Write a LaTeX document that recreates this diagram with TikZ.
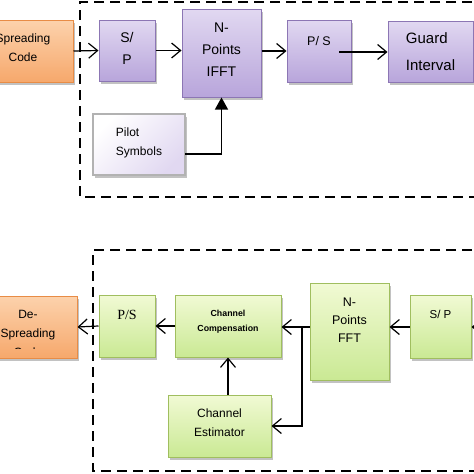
\documentclass[tikz,border=0pt]{standalone}
\usepackage{fontspec}
\setmainfont{Liberation Sans}
\newfontfamily\timesfont{Liberation Serif}
\usetikzlibrary{arrows.meta,shadows}

\definecolor{lilac}{RGB}{225,216,241}
\definecolor{lilacdark}{RGB}{184,165,219}
\definecolor{lilacline}{RGB}{140,118,180}
\definecolor{lime}{RGB}{241,250,212}
\definecolor{limedark}{RGB}{202,233,148}
\definecolor{limeline}{RGB}{160,190,95}
\definecolor{peach}{RGB}{252,210,172}
\definecolor{peachdark}{RGB}{246,168,108}
\definecolor{peachline}{RGB}{232,140,70}

\tikzset{
  blk/.style={draw, line width=1pt, rectangle, align=center, inner sep=0pt,
    drop shadow={shadow xshift=2pt, shadow yshift=-2.5pt, fill=black!40, opacity=.6}},
  txblk/.style={blk, draw=lilacline, top color=lilac, bottom color=lilacdark},
  rxblk/.style={blk, draw=limeline, top color=lime, bottom color=limedark},
  codeblk/.style={blk, draw=peachline, top color=peach, bottom color=peachdark},
  flow/.style={line width=1.2pt, -{Straight Barb[length=9pt,width=15pt,line width=1.2pt]}},
  frame/.style={line width=2.8pt, dash pattern=on 10pt off 6pt},
}

\begin{document}
\begin{tikzpicture}[x=1pt, y=-1pt]
\clip (0,0) rectangle (474,474);
%transmitter frame
\draw[frame] (520,2) -- (80,2) -- (80,197) -- (520,197);
%receiver frame
\draw[frame] (520,250) -- (93,250) -- (93,471) -- (520,471);

%transmitter blocks:
\node[codeblk, minimum width=100pt, minimum height=62pt, text depth=7pt,
  font=\fontsize{12}{19}\selectfont] (spread) at (23,51) {Spreading\\Code};
\node[txblk, minimum width=56pt, minimum height=61pt, text depth=4pt,
  font=\fontsize{14}{22}\selectfont] (sp) at (127,50.5) {S/\\P};
\node[txblk, minimum width=79pt, minimum height=88pt, text depth=6pt,
  font=\fontsize{14}{22}\selectfont] (ifft) at (221.5,53) {N-\\Points\\IFFT};
\node[txblk, minimum width=64pt, minimum height=62pt, text depth=20pt,
  font=\fontsize{12.5}{22}\selectfont] (ps) at (319,51) {P/ S};
\node[txblk, minimum width=85pt, minimum height=61pt, align=left,
  font=\fontsize{15}{27}\selectfont] (guard) at (430.5,51.5) {Guard\\Interval};
\node[blk, draw=black!30, line width=1.5pt, top color=white, bottom color=lilac,
  shading angle=45, minimum width=92pt, minimum height=61pt, align=left,
  text depth=6pt, font=\fontsize{12}{19}\selectfont] (pilot) at (139,144.5) {Pilot\\Symbols};
\coordinate (psout) at (339,52);
\coordinate (pilotout) at (185,154);

%transmitter links:
\draw[flow] (spread.east) -- (sp.west);
\draw[flow] (sp.east) -- (sp.east -| ifft.west);
\draw[flow] (ps.west -| ifft.east) -- (ps.west);
\draw[flow] (psout) -- (psout -| guard.west);
\draw[line width=1.2pt, -{Triangle[length=12pt,width=13pt]}] (pilotout) -| (ifft.south);

%receiver blocks:
\node[codeblk, minimum width=98pt, minimum height=62pt] (despread) at (28,327) {};
\begin{scope}
\clip (-30,296) rectangle (77,348);
\node[font=\fontsize{12}{19}\selectfont, align=center] (despreadtext) at (28,333) {De-\\Spreading\\Code};
\end{scope}
\node[rxblk, minimum width=56pt, minimum height=62pt, text depth=22pt,
  font=\timesfont\fontsize{14}{16}\selectfont] (psr) at (127,326) {P/S};
\node[rxblk, minimum width=106pt, minimum height=62pt, text depth=11pt,
  font=\bfseries\fontsize{8.8}{15}\selectfont] (comp) at (228,326) {Channel\\Compensation};
\node[rxblk, minimum width=103pt, minimum height=62pt, text depth=7pt,
  font=\fontsize{12}{19}\selectfont] (est) at (219.5,426) {Channel\\Estimator};
\node[rxblk, minimum width=79pt, minimum height=97pt, text depth=23pt,
  font=\fontsize{12.5}{18}\selectfont] (fft) at (349.5,331.5) {N-\\Points\\FFT};
\node[rxblk, minimum width=61pt, minimum height=63pt, text depth=24pt,
  font=\fontsize{11.5}{16}\selectfont] (spr) at (440.5,326.5) {S/ P};
\coordinate (rxin) at (500,327);
\coordinate (tap) at (302,327);

%receiver links:
\draw[flow] (rxin) -- (rxin -| spr.east);
\draw[flow] (spr.west |- tap) -- (tap -| fft.east);
\draw[flow] (tap -| fft.west) -- (tap -| comp.east);
\draw[flow] (tap) |- (est.east);
\draw[flow] (est.north -| comp.south) -- (comp.south);
\draw[flow] (comp.west) -- (psr.east);
\draw[flow] (psr.west) -- (despread.east);
\end{tikzpicture}
\end{document}
